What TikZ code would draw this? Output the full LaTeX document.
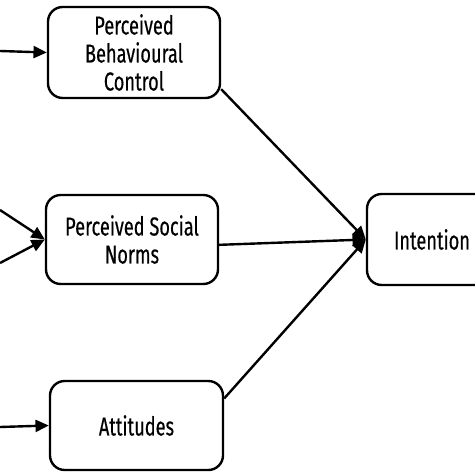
\documentclass[tikz,border=0pt]{standalone}
\usepackage{fontspec}
\setmainfont[FakeStretch=0.7,FakeBold=0.4]{Fira Sans}
\usetikzlibrary{arrows.meta}
\tikzset{
  box/.style={draw, line width=1.8pt, rounded corners=11pt, align=center, inner sep=0pt,
    font=\fontsize{19.5pt}{21pt}\selectfont},
  link/.style={line width=1.8pt, -{Triangle[length=10pt,width=9pt]}},
}
\begin{document}
\begin{tikzpicture}[x=0.75pt,y=0.75pt,yscale=-1,xscale=1]
\useasboundingbox (0,0) rectangle (474,474);

%Shape: Rounded Rectangle
\node (pbc) [box, minimum width=129pt, minimum height=68.25pt] at (134,52.5) {Perceived\\Behavioural\\Control};
%Shape: Rounded Rectangle
\node (psn) [box, minimum width=129pt, minimum height=66.75pt] at (132,239.5) {Perceived Social\\Norms};
%Shape: Rounded Rectangle
\node (att) [box, minimum width=129.75pt, minimum height=66.75pt] at (136.5,425.5) {Attitudes};
%Shape: Rounded Rectangle
\node (int) [box, minimum width=97.5pt, minimum height=68.25pt] at (432,239.5) {Intention};

%Free ends
\coordinate (in1) at (0,51);
\coordinate (in2a) at (0,210);
\coordinate (in2b) at (0,263);
\coordinate (in3) at (0,427);

%Straight Lines
\draw [link] (in1) -- (pbc.west);
\draw [link] (in2a) -- (psn.west);
\draw [link] (in2b) -- (psn.west);
\draw [link] (in3) -- (att.west);

%Straight Lines
\draw [link] ([yshift=-7.5pt]pbc.south east) -- (int.west);
\draw [link] ([yshift=4pt]psn.east) -- (int.west);
\draw [link] ([yshift=14pt]att.north east) -- (int.west);

\end{tikzpicture}
\end{document}
